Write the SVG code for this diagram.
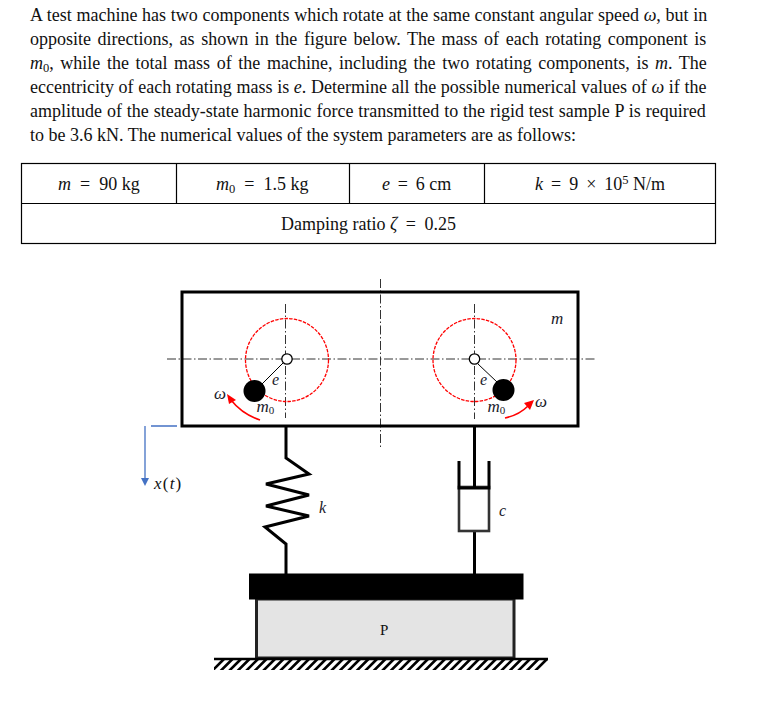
<svg xmlns="http://www.w3.org/2000/svg" width="770" height="704" viewBox="0 0 770 704">
<style>
text{font-family:"Liberation Serif","Times New Roman",serif;fill:#111}
.p{font-size:18px}
.t{font-size:18px}
.i{font-style:italic}
.s{font-size:12.500px}
.d{font-size:16px;font-style:italic;fill:#1a1a2a}
.m{font-size:17px;font-style:italic;fill:#1a1a2a}
.b{fill:none;stroke:#000;stroke-width:3}
.c{fill:none;stroke:#333;stroke-width:1;stroke-dasharray:9 2.500 1.500 2.500}
.r{fill:none;stroke:#f00;stroke-width:1.300;stroke-dasharray:3.500 1.200}
.a{fill:none;stroke:#f00;stroke-width:1.600}
.h{stroke:#000;stroke-width:2.600}
.tb{stroke:#000;stroke-width:1.200;fill:none}
</style>
<defs><clipPath id="g"><rect x="214" y="657" width="334" height="13"/></clipPath></defs>
<rect width="770" height="704" fill="#fff"/>
<g id="statement">
<text class="p" x="30" y="21" word-spacing="0.2">A test machine has two components which rotate at the same constant angular speed <tspan class="i">ω</tspan>, but in</text>
<text class="p" x="30" y="45" word-spacing="2.070">opposite directions, as shown in the figure below. The mass of each rotating component is</text>
<text class="p" x="30" y="69" word-spacing="2.100"><tspan class="i">m</tspan><tspan class="s" dy="3">0</tspan><tspan dy="-3">, while the total mass of the machine, including the two rotating components, is </tspan><tspan class="i">m</tspan>. The</text>
<text class="p" x="30" y="93" word-spacing="0.150">eccentricity of each rotating mass is <tspan class="i">e</tspan>. Determine all the possible numerical values of <tspan class="i">ω</tspan> if the</text>
<text class="p" x="30" y="117" word-spacing="0.400">amplitude of the steady-state harmonic force transmitted to the rigid test sample P is required</text>
<text class="p" x="30" y="141">to be 3.6 kN. The numerical values of the system parameters are as follows:</text>
</g>
<g id="parameters">
<rect class="tb" x="21.500" y="163.500" width="694" height="80"/>
<path class="tb" d="M21.500 203.500H715.500M176.500 163.500V203.500M349.500 163.500V203.500M484.500 163.500V203.500"/>
<text class="t" x="58" y="190"><tspan class="i">m</tspan><tspan word-spacing="4.500"> = </tspan>90 kg</text>
<text class="t" x="216" y="190"><tspan class="i">m</tspan><tspan class="s" dy="3">0</tspan><tspan dy="-3" word-spacing="4.500"> = </tspan>1.5 kg</text>
<text class="t" x="382" y="190"><tspan class="i">e</tspan><tspan word-spacing="3.300"> = </tspan>6 cm</text>
<text class="t" x="535" y="190"><tspan class="i">k</tspan><tspan word-spacing="3.500"> = </tspan>9<tspan word-spacing="3.500"> × </tspan>10<tspan class="s" dy="-6">5</tspan><tspan dy="6"> N/m</tspan></text>
<text class="t" x="281" y="230">Damping ratio <tspan class="i">ζ</tspan><tspan word-spacing="4"> = </tspan>0.25</text>
</g>
<g id="connectors">
<path class="b" d="M286 426V458L309 474L266 484L309 495L266 506L309 516L265 527L286 544V574"/>
<path class="b" d="M474.500 426V487M474.500 531V574"/>
<path class="c" d="M380.500 279V447M285.500 304V418M474.500 304V419M167 359H595"/>
<path fill="none" stroke="#4472c4" stroke-width="1.300" d="M145 426V479M151 426H177"/>
<path fill="#4472c4" d="M141 478H149L145 486Z"/>
</g>
<g id="machine">
<rect class="b" x="182" y="292" width="396" height="134"/>
<text class="m" x="551" y="324">m</text>
</g>
<g id="rotor-left">
<circle class="r" cx="287" cy="360" r="41.500"/>
<path stroke="#000" stroke-width="1" d="M283 363L262 384"/>
<circle cx="254.500" cy="391" r="11" fill="#000"/>
<circle cx="287" cy="359" r="5.200" fill="#fff" stroke="#000" stroke-width="1.300"/>
<text class="d" x="272" y="385">e</text>
<text class="m" x="256.500" y="412">m<tspan font-size="11" dy="2" font-style="normal">0</tspan></text>
<text class="m" x="214" y="399">ω</text>
<path class="a" d="M260 420Q242 414 231 400"/>
<path fill="#f00" d="M227 394L236 400L229 404Z"/>
</g>
<g id="rotor-right">
<circle class="r" cx="474.500" cy="360" r="41.500"/>
<path stroke="#000" stroke-width="1" d="M478 364L497 382"/>
<circle cx="503.500" cy="390" r="11" fill="#000"/>
<circle cx="474.500" cy="359" r="5.200" fill="#fff" stroke="#000" stroke-width="1.300"/>
<text class="d" x="480" y="385">e</text>
<text class="m" x="487.500" y="412">m<tspan font-size="11" dy="2" font-style="normal">0</tspan></text>
<text class="m" x="535" y="407">ω</text>
<path class="a" d="M505 418Q519 415 528 406"/>
<path fill="#f00" d="M534 400L530 410L524 403Z"/>
</g>
<g id="spring-label"><text class="d" x="319" y="513">k</text></g>
<g id="damper">
<rect x="459" y="487" width="30" height="44" fill="#fff" stroke="#333" stroke-width="2.600"/>
<path class="b" d="M459 461V488H489V461"/>
<path class="b" d="M474.500 461V488"/>
<text class="d" x="499" y="516">c</text>
</g>
<g id="sample">
<rect x="256.500" y="599" width="257.500" height="59" fill="#e4e4e4" stroke="#222" stroke-width="3"/>
<rect x="249" y="573.500" width="274.500" height="26" fill="#000"/>
<text x="380" y="635" font-size="15">P</text>
</g>
<g id="ground" clip-path="url(#g)">
<path class="h" d="M214 659H548"/>
<path class="h" d="M212 671L224 659M220.500 671L232.500 659M229 671L241 659M237.500 671L249.500 659M246 671L258 659M254.500 671L266.500 659M263 671L275 659M271.500 671L283.500 659M280 671L292 659M288.500 671L300.500 659M297 671L309 659M305.500 671L317.500 659M314 671L326 659M322.500 671L334.500 659M331 671L343 659M339.500 671L351.500 659M348 671L360 659M356.500 671L368.500 659M365 671L377 659M373.500 671L385.500 659M382 671L394 659M390.500 671L402.500 659M399 671L411 659M407.500 671L419.500 659M416 671L428 659M424.500 671L436.500 659M433 671L445 659M441.500 671L453.500 659M450 671L462 659M458.500 671L470.500 659M467 671L479 659M475.500 671L487.500 659M484 671L496 659M492.500 671L504.500 659M501 671L513 659M509.500 671L521.500 659M518 671L530 659M526.500 671L538.500 659M535 671L547 659"/>
</g>
<g id="displacement"><text x="154" y="489" font-size="17" letter-spacing="1.200" fill="#1a1a2a"><tspan font-style="italic">x</tspan>(<tspan font-style="italic">t</tspan>)</text></g>
</svg>
